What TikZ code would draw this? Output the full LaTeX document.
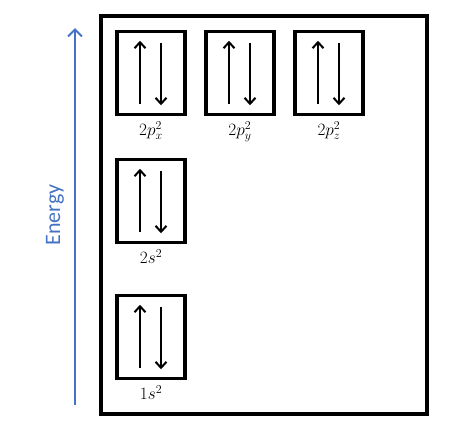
\documentclass[tikz,border=0pt]{standalone}
\usepackage{fontspec}
\newfontfamily\carl{Carlito}
\usetikzlibrary{arrows.meta}
\definecolor{eblue}{HTML}{4472C4}
\begin{document}
\begin{tikzpicture}[x=1pt,y=-1pt,
  orb/.style={draw,line width=3.5pt,minimum width=68pt,minimum height=83pt,inner sep=0pt},
  spin/.style={line width=2pt,-{Straight Barb[length=6pt,width=11pt,line width=2pt]}},
  lab/.style={font=\fontsize{17}{19}\selectfont}]
\useasboundingbox (0,0) rectangle (474,434);
\node[draw,line width=3.5pt,minimum width=326pt,minimum height=398pt,inner sep=0pt] (frame) at (264,215) {};
\coordinate (ebot) at (75,405);
\coordinate (etop) at (75,28);
\draw[eblue,line width=2pt,-{Straight Barb[length=7pt,width=14pt,line width=2pt]}] (ebot) -- (etop);
\node[eblue,rotate=90,font=\carl\fontsize{22}{24}\selectfont] (energy) at (55,215) {Energy};
\foreach \n/\x/\y in {px/151/73, py/240/73, pz/329/73, s2/151/201, s1/151/337}{
  \node[orb] (\n) at (\x,\y) {};
  \draw[spin] ([shift={(-11,-12)}]\n.south) -- ([shift={(-11,11)}]\n.north);
  \draw[spin] ([shift={(10,13)}]\n.north) -- ([shift={(10,-11)}]\n.south);
}
\foreach \n/\t in {px/{2p_x^2}, py/{2p_y^2}, pz/{2p_z^2}, s2/{2s^2}, s1/{1s^2}}{
  \node[lab,anchor=north,inner sep=0pt] (l\n) at ([shift={(0,5)}]\n.south) {$\t$};
}
\end{tikzpicture}
\end{document}
